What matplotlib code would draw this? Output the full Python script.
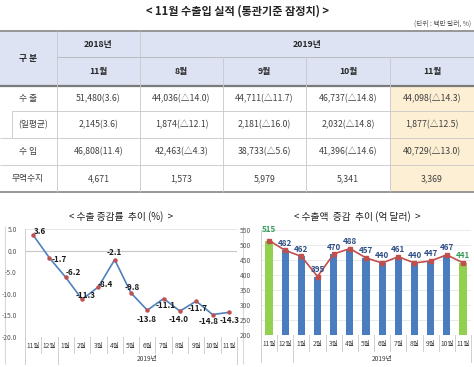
import matplotlib
matplotlib.use('Agg')
import matplotlib.pyplot as plt
from matplotlib.patches import Rectangle
from matplotlib.lines import Line2D

plt.rcParams['font.family'] = ['Noto Sans CJK KR', 'DejaVu Sans']

# ---------------- data ----------------
title = '< 11월 수출입 실적 (통관기준 잠정치) >'
unit_text = '(단위 : 백만 달러, %)'
corner_header = '구 분'
year_headers = ['2018년', '2019년']
month_headers = ['11월', '8월', '9월', '10월', '11월']
row_labels = ['수 출', '(일평균)', '수 입', '무역수지']
table_values = [
    ['51,480(3.6)', '44,036(△14.0)', '44,711(△11.7)', '46,737(△14.8)', '44,098(△14.3)'],
    ['2,145(3.6)', '1,874(△12.1)', '2,181(△16.0)', '2,032(△14.8)', '1,877(△12.5)'],
    ['46,808(11.4)', '42,463(△4.3)', '38,733(△5.6)', '41,396(△14.6)', '40,729(△13.0)'],
    ['4,671', '1,573', '5,979', '5,341', '3,369'],
]

chart1_title = '< 수출 증감률  추이 (%)  >'
chart2_title = '< 수출액  증감  추이 (억 달러)  >'
months = ['11월', '12월', '1월', '2월', '3월', '4월', '5월', '6월', '7월', '8월', '9월', '10월', '11월']
group_label = '2019년'
growth = [3.6, -1.7, -6.2, -11.3, -8.4, -2.1, -9.8, -13.8, -11.1, -14.0, -11.7, -14.8, -14.3]
exports = [515, 482, 462, 395, 470, 488, 457, 440, 461, 440, 447, 467, 441]
growth_ticks = [5, 0, -5, -10, -15, -20]
export_ticks = [200, 250, 300, 350, 400, 450, 500, 550]

# ---------------- figure ----------------
W, H = 474, 367
fig = plt.figure(figsize=(W / 100, H / 100), dpi=100)
bg = fig.add_axes([0, 0, 1, 1])
bg.set_xlim(0, W)
bg.set_ylim(H, 0)
bg.axis('off')

bg.text(238, 11, title, ha='center', va='center', fontsize=8, fontweight='bold', color='#222222')
bg.text(471, 24, unit_text, ha='right', va='center', fontsize=4.8, color='#555555')

col_edges = [0, 57, 140, 223, 306, 390, 474]
row_edges = [31, 57, 86, 111, 138, 165, 192]
hdr_color = '#dde3f3'
hl_color = '#fcefd4'

bg.add_patch(Rectangle((0, row_edges[0]), W, row_edges[2] - row_edges[0], color=hdr_color, lw=0))
bg.add_patch(Rectangle((col_edges[5], row_edges[2]), col_edges[6] - col_edges[5],
                       row_edges[6] - row_edges[2], color=hl_color, lw=0))

light = '#c8c8c8'
def hline(y, x0, x1, c=light, lw=0.6):
    bg.plot([x0, x1], [y, y], color=c, lw=lw, solid_capstyle='butt')
def vline(x, y0, y1, c=light, lw=0.6):
    bg.plot([x, x], [y0, y1], color=c, lw=lw, solid_capstyle='butt')

hline(row_edges[0], 0, W, '#8f8f8f', 1.3)
hline(row_edges[1], col_edges[1], W, '#b5b5b5', 0.6)
hline(row_edges[2], 0, W, '#7a7a7a', 1.6)
hline(row_edges[3], 12, W)
hline(row_edges[4], 0, W)
hline(row_edges[5], 0, W)
hline(row_edges[6], 0, W, '#8f8f8f', 1.3)
vline(col_edges[1], row_edges[0], row_edges[6])
vline(col_edges[2], row_edges[0], row_edges[6])
for x in col_edges[3:6]:
    vline(x, row_edges[1], row_edges[6])
vline(12, row_edges[3], row_edges[4])

hc = '#262626'
bc = '#404040'
fs = 6.3
bg.text(28, (row_edges[0] + row_edges[2]) / 2, corner_header, ha='center', va='center',
        fontsize=fs, fontweight='bold', color=hc)
bg.text((col_edges[1] + col_edges[2]) / 2, (row_edges[0] + row_edges[1]) / 2, year_headers[0],
        ha='center', va='center', fontsize=fs, fontweight='bold', color=hc)
bg.text((col_edges[2] + col_edges[6]) / 2, (row_edges[0] + row_edges[1]) / 2, year_headers[1],
        ha='center', va='center', fontsize=fs, fontweight='bold', color=hc)
for j, m in enumerate(month_headers):
    bg.text((col_edges[j + 1] + col_edges[j + 2]) / 2, (row_edges[1] + row_edges[2]) / 2, m,
            ha='center', va='center', fontsize=fs, fontweight='bold', color=hc)
label_x = [28, 33, 28, 28]
for i, lab in enumerate(row_labels):
    yc = (row_edges[i + 2] + row_edges[i + 3]) / 2
    bg.text(label_x[i], yc, lab, ha='center', va='center', fontsize=fs, color=bc)
    for j, v in enumerate(table_values[i]):
        bg.text((col_edges[j + 1] + col_edges[j + 2]) / 2, yc, v, ha='center', va='center',
                fontsize=fs, color=bc)

# chart frames
frame_c = '#d9d9d9'
vline(5, 226, 364, frame_c, 0.8)
vline(243, 226, 364, frame_c, 0.8)

bg.text(121, 217, chart1_title, ha='center', va='center', fontsize=7, color='#222222')
bg.text(357, 217, chart2_title, ha='center', va='center', fontsize=7, color='#222222')

x = list(range(len(months)))


def category_axis(ax, ax_h_px, inner_px, outer_px, group_px):
    ax.set_xlim(-0.5, len(months) - 0.5)
    ax.set_xticks(x)
    ax.set_xticklabels(months, fontsize=4.8, color='#404040')
    ax.tick_params(axis='x', length=0, pad=3.5)
    ax.tick_params(axis='y', length=0, labelsize=4.8, labelcolor='#595959')
    tr = ax.get_xaxis_transform()
    for b in [i - 0.5 for i in range(len(months) + 1)]:
        long = b in (-0.5, 1.5, len(months) - 0.5)
        depth = (outer_px if long else inner_px) / ax_h_px
        ax.add_line(Line2D([b, b], [0, -depth], transform=tr, color='#d0d0d0', lw=0.7,
                           clip_on=False))
    ax.annotate(group_label, xy=((2 + len(months) - 1) / 2, 0), xycoords=tr,
                xytext=(0, -group_px), textcoords='offset pixels', ha='center', va='center',
                fontsize=4.8, color='#404040', annotation_clip=False)
    for s in ['top', 'right', 'bottom']:
        ax.spines[s].set_visible(False)
    ax.spines['left'].set_color('#d0d0d0')
    ax.spines['left'].set_linewidth(0.7)
    ax.set_facecolor('none')


# ---- left chart ----
ax1 = fig.add_axes([25 / W, (H - 337) / H, 212 / W, 108 / H])
ax1.set_ylim(-20, 5)
ax1.set_yticks(growth_ticks)
ax1.set_yticklabels(['%.1f' % t for t in growth_ticks])
ax1.tick_params(axis='y', pad=6)
category_axis(ax1, 108, 16, 27, 22)
ax1.axhline(5, color='#e3e3e3', lw=0.6, zorder=0)
ax1.axhline(0, color='#c8c8c8', lw=0.8, zorder=0)
ax1.plot(x, growth, color='#4f81bd', lw=1.2, marker='o', ms=2.2, mfc='#c0504d', mec='#c0504d',
         zorder=3)
offs1 = [(7, 4), (10, -2), (7, 5), (4, 4), (7, 2), (0, 7), (1, 5), (-1, -9), (2, -7),
         (-1, -8), (1, -7), (-4, -7), (1, -8)]
for xi, v, (dx, dy) in zip(x, growth, offs1):
    ax1.annotate('%.1f' % v, xy=(xi, v), xytext=(dx, dy), textcoords='offset pixels',
                 ha='center', va='center', fontsize=5.8, fontweight='bold', color='#1a1a1a',
                 zorder=4)

# ---- right chart ----
ax2 = fig.add_axes([261 / W, (H - 335) / H, 210 / W, 105 / H])
ax2.set_ylim(200, 550)
ax2.set_yticks(export_ticks)
ax2.set_yticklabels([str(t) for t in export_ticks])
ax2.tick_params(axis='y', pad=7)
category_axis(ax2, 105, 16, 27, 24)
for t in export_ticks[1:]:
    ax2.axhline(t, color='#e6e6e6', lw=0.6, zorder=0)
blue = '#4a7dbf'
green = '#92d050'
bar_colors = [green] + [blue] * (len(months) - 2) + [green]
ax2.bar(x, exports, width=0.45, color=bar_colors, zorder=2)
ax2.plot(x, exports, color='#c0504d', lw=1.2, marker='s', ms=2.8, zorder=3)
lab_colors = ['#3a9d5d'] + ['#2e4f87'] * (len(months) - 2) + ['#3a9d5d']
for i, (xi, v) in enumerate(zip(x, exports)):
    dy = 11 if i == 0 else 7
    ax2.annotate(str(v), xy=(xi, v), xytext=(0, dy), textcoords='offset pixels',
                 ha='center', va='center', fontsize=5.8, fontweight='bold', color=lab_colors[i],
                 zorder=4, annotation_clip=False)

fig.savefig('out.png', dpi=100)
